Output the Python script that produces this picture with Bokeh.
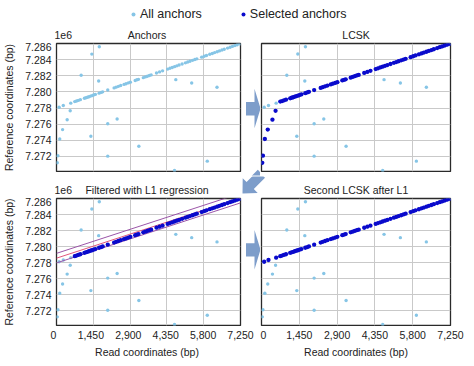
from bokeh.plotting import figure
from bokeh.layouts import row, column
from bokeh.models import FixedTicker, Legend, LegendItem, Range1d
from bokeh.core.properties import value
from bokeh.embed import file_html
from bokeh.resources import INLINE

# ---------------- data ----------------
x_ticks = [0, 1450, 2900, 4350, 5800, 7250]
x_tick_labels = ["0", "1,450", "2,900", "4,350", "5,800", "7,250"]
y_ticks = [7272000, 7274000, 7276000, 7278000, 7280000, 7282000, 7284000, 7286000]
y_tick_labels = ["7.272", "7.274", "7.276", "7.278", "7.280", "7.282", "7.284", "7.286"]
y_multiplier = "1e6"

# anchors on the main diagonal
line_x = [102, 268, 562, 720, 790, 860, 940, 1100, 1160, 1220, 1280, 1340, 1400, 1460, 1530,
          1680, 1760, 1820, 2020, 2270, 2350, 2440, 2530, 2660, 2740, 2830, 2910, 3100, 3170,
          3230, 3420, 3500, 3580, 3660, 3730, 3940, 4060, 4180, 4380, 4470, 4560, 4650, 4740,
          4830, 4950, 5080, 5170, 5260, 5360, 5450, 5530, 5720, 5820, 5910, 6040, 6140, 6230,
          6330, 6420, 6520, 6610, 6740, 6840, 6930, 7030, 7120, 7225]
line_y = [7278100, 7278320, 7278610, 7278800, 7278870, 7278950, 7279040, 7279210, 7279280,
          7279340, 7279410, 7279480, 7279540, 7279610, 7279690, 7279850, 7279940, 7280010,
          7280230, 7280500, 7280590, 7280690, 7280790, 7280930, 7281020, 7281120, 7281210,
          7281420, 7281500, 7281560, 7281770, 7281860, 7281950, 7282040, 7282110, 7282350,
          7282480, 7282610, 7282830, 7282930, 7283030, 7283130, 7283230, 7283330, 7283460,
          7283600, 7283700, 7283800, 7283910, 7284010, 7284100, 7284310, 7284420, 7284520,
          7284660, 7284770, 7284870, 7284980, 7285080, 7285190, 7285290, 7285430, 7285540,
          7285640, 7285750, 7285850, 7285970]
# number of diagonal anchors at the start that the first LCSK skipped
lcsk_skipped = 3

# steep chain picked by the first LCSK
chain_x = [30, 55, 128, 240, 420, 540]
chain_y = [7271220, 7272100, 7274170, 7275330, 7276560, 7277660]

# scattered outlier anchors
outlier_x = [1686, 1393, 971, 1661, 4701, 5327, 6324, 2019, 2389, 1354, 3245, 2019, 5941, 4650]
outlier_y = [7285590, 7284690, 7282060, 7281360, 7281520, 7281110, 7280580, 7276060, 7276640,
             7274500, 7273270, 7272040, 7271420, 7270270]

# L1 regression line and its band
l1_x = [0, 7250]
l1_mid = [7278550, 7286050]
l1_upper = [7279150, 7286650]
l1_lower = [7277950, 7285450]

titles = ["Anchors", "LCSK", "Filtered with L1 regression", "Second LCSK after L1"]
legend_labels = ["All anchors", "Selected anchors"]

# ---------------- style / layout (page pixels) ----------------
LIGHT = "#86c5e6"
DARK = "#0a0acc"
ARROW = "#7d9dca"
FONT = "Liberation Sans"
TXT = "#222222"
XMIN, XMAX = 0, 7250
YMIN, YMAX = 7270140, 7286000
PAGE_W = 474
L_FRAME = (53, 240)    # left-column frame x
R_FRAME = (261, 450)   # right-column frame x
STRIP = (242, 260)
LIGHT_SIZE = 3.4
DARK_SIZE = 4.3

all_x = line_x + chain_x + outlier_x
all_y = line_y + chain_y + outlier_y


def bare(w, h, xr, yr):
    f = figure(width=w, height=h, x_range=Range1d(*xr), y_range=Range1d(*yr),
               output_backend="svg", toolbar_location=None, x_axis_location=None,
               y_axis_location=None, min_border=0, outline_line_color=None)
    f.grid.visible = False
    return f


def style_axis(a):
    a.axis_line_color = None
    a.major_tick_out = 0
    a.major_tick_in = 0
    a.minor_tick_out = 0
    a.minor_tick_in = 0
    a.major_label_text_font = FONT
    a.major_label_text_font_size = "10.5px"
    a.major_label_text_color = TXT
    a.axis_label_text_font = FONT
    a.axis_label_text_font_size = "10.5px"
    a.axis_label_text_font_style = "normal"
    a.axis_label_text_color = TXT


def panel(left, frame_h):
    fx = L_FRAME if left else R_FRAME
    lb = fx[0] if left else fx[0] - STRIP[1]
    rb = STRIP[0] - fx[1] if left else PAGE_W - fx[1]
    w = lb + (fx[1] - fx[0]) + rb
    p = figure(width=w, height=frame_h + 2, x_range=Range1d(XMIN, XMAX), y_range=Range1d(YMIN, YMAX),
               output_backend="svg", toolbar_location=None, x_axis_location=None,
               y_axis_location="left" if left else None)
    p.min_border_left = lb
    p.min_border_right = rb
    p.min_border_top = 1
    p.min_border_bottom = 1
    p.outline_line_color = "#2a2a2a"
    p.outline_line_width = 1.3
    p.xgrid.ticker = FixedTicker(ticks=x_ticks)
    p.ygrid.ticker = FixedTicker(ticks=y_ticks)
    p.grid.grid_line_color = "#c9c9c9"
    p.grid.grid_line_width = 1
    if left:
        ay = p.yaxis[0]
        ay.ticker = FixedTicker(ticks=y_ticks)
        ay.major_label_overrides = dict(zip(y_ticks, y_tick_labels))
        ay.axis_label = "Reference coordinates (bp)"
        ay.major_label_standoff = 5
        ay.axis_label_standoff = 7
        style_axis(ay)
    p.scatter(all_x, all_y, size=LIGHT_SIZE, color=LIGHT, line_color=None)
    return p


def xaxis_fig(left):
    fx = L_FRAME if left else R_FRAME
    lb = fx[0] if left else fx[0] - STRIP[1]
    rb = STRIP[1] - fx[1] if left else PAGE_W - fx[1]
    w = lb + (fx[1] - fx[0]) + rb
    f = figure(width=w, height=40, x_range=Range1d(XMIN, XMAX), y_range=Range1d(0, 1),
               output_backend="svg", toolbar_location=None, x_axis_location="below",
               y_axis_location=None, outline_line_color=None)
    f.grid.visible = False
    f.min_border_left = lb
    f.min_border_right = rb
    f.min_border_top = 0
    f.min_border_bottom = 39
    ax = f.xaxis[0]
    ax.ticker = FixedTicker(ticks=x_ticks)
    ax.major_label_overrides = dict(zip(x_ticks, x_tick_labels))
    ax.axis_label = "Read coordinates (bp)"
    ax.major_label_standoff = 3
    ax.axis_label_standoff = 4
    style_axis(ax)
    return f


tl = panel(True, 128)   # page y 42..176, frame 43..171
tr = panel(False, 128)
bl = panel(True, 127)   # page y 197..326, frame 198..325
br = panel(False, 127)

# LCSK: chain + diagonal after the skipped start
tr.scatter(chain_x + line_x[lcsk_skipped:], chain_y + line_y[lcsk_skipped:], size=DARK_SIZE, color=DARK, line_color=None)
# L1 filtered
bl.line(l1_x, l1_upper, line_color="#9b55a8", line_width=1)
bl.line(l1_x, l1_lower, line_color="#9b55a8", line_width=1)
bl.line(l1_x, l1_mid, line_color="#e0557c", line_width=1)
bl.scatter(line_x[lcsk_skipped:], line_y[lcsk_skipped:], size=DARK_SIZE, color=DARK, line_color=None)
# second LCSK
br.scatter(line_x, line_y, size=DARK_SIZE, color=DARK, line_color=None)

# ---------------- decorative arrows (page-pixel shapes) ----------------
right_arrow = [(245.5, 101.5), (254, 101.5), (254, 88), (260, 108), (254, 128), (254, 115), (245.5, 115)]
diag_arrow = [(242, 193), (242.2, 177.7), (246.1, 181.6), (257.3, 170.2), (264.5, 177.2),
              (253.3, 188.6), (257.2, 192.5)]
low_arrow = [(px, py + 141) for px, py in right_arrow]


def draw_shapes(f, shapes, left, bottom):
    f.patches([[px - left for px, py in s] for s in shapes],
              [[bottom - py for px, py in s] for s in shapes],
              fill_color=ARROW, line_color=None)


strip_top = bare(STRIP[1] - STRIP[0], 134, (0, STRIP[1] - STRIP[0]), (0, 134))
draw_shapes(strip_top, [right_arrow, diag_arrow], STRIP[0], 176)
strip_bot = bare(STRIP[1] - STRIP[0], 129, (0, STRIP[1] - STRIP[0]), (0, 129))
draw_shapes(strip_bot, [low_arrow], STRIP[0], 326)


# ---------------- header strips with panel titles ----------------
def header(h, t_left, t_right, center_from_bottom, with_arrow=False, top=0):
    f = bare(PAGE_W, h, (0, PAGE_W), (0, h))
    if with_arrow:
        draw_shapes(f, [diag_arrow], 0, top + h)
    f.text(x=[L_FRAME[0] + 1], y=[center_from_bottom], text=[y_multiplier], text_font=value(FONT),
           text_font_size="10.5px", text_color=TXT, text_align="left", text_baseline="middle")
    f.text(x=[sum(L_FRAME) / 2, sum(R_FRAME) / 2], y=[center_from_bottom] * 2,
           text=[t_left, t_right], text_font=value(FONT), text_font_size="10.5px",
           text_color=TXT, text_align="center", text_baseline="middle")
    return f


head_top = header(18, titles[0], titles[1], 7.5)                        # page y 24..42
head_bot = header(21, titles[2], titles[3], 8, with_arrow=True, top=176)  # page y 176..197

# ---------------- legend strip ----------------
lf = bare(PAGE_W, 24, (0, 1), (0, 1))
r1 = lf.scatter(x=[-5], y=[-5], size=5, color=LIGHT, line_color=None)
r2 = lf.scatter(x=[-5], y=[-5], size=5, color=DARK, line_color=None)
leg = Legend(items=[LegendItem(label=legend_labels[0], renderers=[r1]),
                    LegendItem(label=legend_labels[1], renderers=[r2])],
             orientation="horizontal", location=(128, 3), border_line_color=None,
             background_fill_alpha=0, label_text_font=FONT, label_text_font_size="12.5px",
             label_text_color=TXT, glyph_width=10, glyph_height=14, label_standoff=2,
             spacing=36, padding=0, margin=0)
lf.add_layout(leg)

layout = column(lf, head_top, row(tl, strip_top, tr), head_bot, row(bl, strip_bot, br),
                row(xaxis_fig(True), xaxis_fig(False)))

open("out.html", "w").write(file_html(layout, INLINE))
